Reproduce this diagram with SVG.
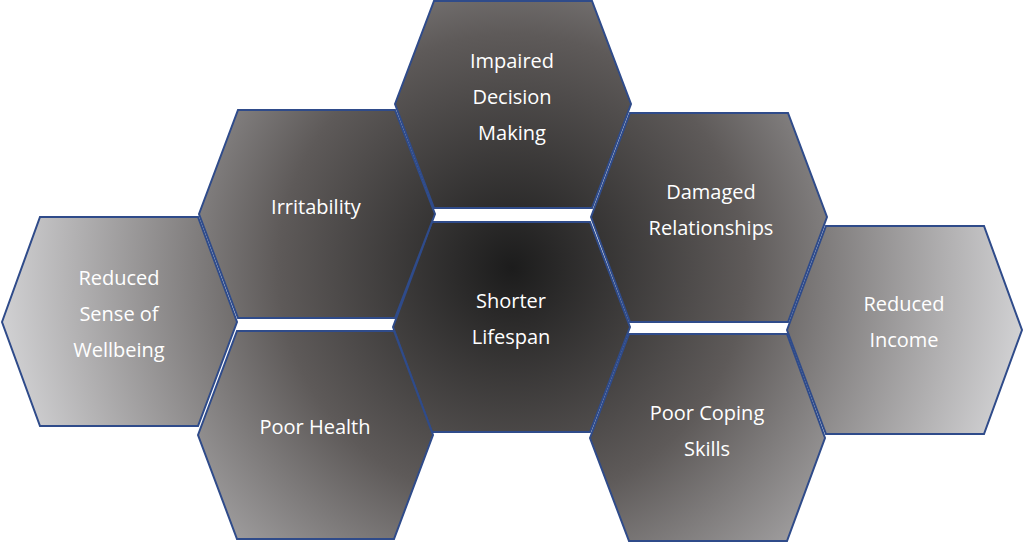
<svg xmlns="http://www.w3.org/2000/svg" width="1024" height="544" viewBox="0 0 1024 544">
<defs>
<radialGradient id="g" gradientUnits="userSpaceOnUse" cx="512" cy="268" r="520">
<stop offset="0" stop-color="#1c1c1c"/>
<stop offset="0.45" stop-color="#5e5a59"/>
<stop offset="1" stop-color="#d4d4d6"/>
</radialGradient>
</defs>
<style>
.h{fill:url(#g);stroke:#2f4b8a;stroke-width:2}
.t{fill:#fff;font-family:"Open Sans","Noto Sans",sans-serif;font-size:20px;text-anchor:middle}
</style>
<g id="n-center"><polygon class="h" points="393,327 432,222 590,222 630,327 590,432 432,432"/><text class="t" x="511" y="308">Shorter</text><text class="t" x="511" y="344">Lifespan</text></g>
<g id="n-impaired"><polygon class="h" points="395,104 434,1 592,1 631,104 592,208 434,208"/><text class="t" x="512" y="68">Impaired</text><text class="t" x="512" y="104">Decision</text><text class="t" x="512" y="140">Making</text></g>
<g id="n-irritability"><polygon class="h" points="199,214 238,110 395,110 435,214 395,318 238,318"/><text class="t" x="316" y="214">Irritability</text></g>
<g id="n-wellbeing"><polygon class="h" points="2,322 40,217 198,217 237,322 198,426 40,426"/><text class="t" x="119" y="285">Reduced</text><text class="t" x="119" y="321">Sense of</text><text class="t" x="119" y="357">Wellbeing</text></g>
<g id="n-health"><polygon class="h" points="198,435 237,331 394,331 433,435 394,539 237,539"/><text class="t" x="315" y="434">Poor Health</text></g>
<g id="n-damaged"><polygon class="h" points="591,217 630,113 788,113 827,217 788,322 630,322"/><text class="t" x="711" y="199">Damaged</text><text class="t" x="711" y="235">Relationships</text></g>
<g id="n-coping"><polygon class="h" points="590,438 629,334 787,334 825,438 787,541 629,541"/><text class="t" x="707" y="420">Poor Coping</text><text class="t" x="707" y="456">Skills</text></g>
<g id="n-income"><polygon class="h" points="787,330 826,226 984,226 1022,330 984,434 826,434"/><text class="t" x="904" y="311">Reduced</text><text class="t" x="904" y="347">Income</text></g>
<g id="connectors"></g>
</svg>
